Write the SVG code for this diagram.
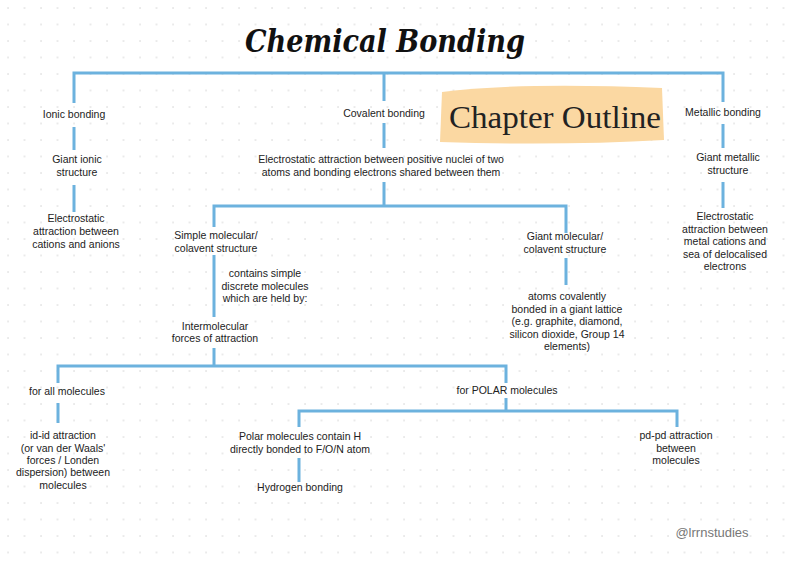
<svg xmlns="http://www.w3.org/2000/svg" width="794" height="561" viewBox="0 0 794 561">
<defs>
<pattern id="dots" width="16.5" height="16.5" patternUnits="userSpaceOnUse" x="6" y="6"><circle cx="2" cy="2" r="0.8" fill="#d4d4d4"/></pattern>
</defs>
<style>
.l{stroke:#6cb2de;stroke-width:3;fill:none}
text{font-family:"Liberation Sans",Arial,sans-serif;font-size:10.5px;fill:#222;text-anchor:middle}
</style>
<rect width="794" height="561" fill="#fff"/>
<rect width="794" height="561" fill="url(#dots)"/>
<g id="title"><text x="385" y="52" textLength="280" lengthAdjust="spacingAndGlyphs" style="font-size:32px;font-weight:bold;font-style:italic;font-family:'DejaVu Serif',serif;fill:#111">Chemical Bonding</text></g>
<g id="chapter-outline">
<path d="M442 92 Q520 82 662 88 L664 140 Q560 146 440 142 Z" fill="#fbd8a2"/>
<text x="555" y="128" textLength="212" lengthAdjust="spacingAndGlyphs" style="font-family:'Liberation Serif',serif;font-size:32px;fill:#222">Chapter Outline</text>
</g>
<g id="connectors">
<path class="l" d="M74 103V73H723V102M384 73V101"/>
<path class="l" d="M74 127V150M74 185V212"/>
<path class="l" d="M384 123V148M384 182V206M214 227V206H566V233"/>
<path class="l" d="M723 124V148M723 182V208"/>
<path class="l" d="M214 255V317M566 258V285"/>
<path class="l" d="M214 348V366M58 383V366H506V383M58 403V423"/>
<path class="l" d="M506 398V411M299 427V411H677V427M299 458V482"/>
</g>
<g id="n-ionic"><text x="74" y="118">Ionic bonding</text></g>
<g id="n-giant-ionic"><text x="77" y="163">Giant ionic</text><text x="77" y="176">structure</text></g>
<g id="n-ionic-es"><text x="76" y="222">Electrostatic</text><text x="76" y="235">attraction between</text><text x="76" y="248">cations and anions</text></g>
<g id="n-covalent"><text x="384" y="117">Covalent bonding</text></g>
<g id="n-cov-es"><text x="381" y="163">Electrostatic attraction between positive nuclei of two</text><text x="381" y="176">atoms and bonding electrons shared between them</text></g>
<g id="n-metallic"><text x="723" y="116">Metallic bonding</text></g>
<g id="n-giant-metallic"><text x="728" y="161">Giant metallic</text><text x="728" y="174">structure</text></g>
<g id="n-met-es"><text x="725" y="220">Electrostatic</text><text x="725" y="233">attraction between</text><text x="725" y="245">metal cations and</text><text x="725" y="258">sea of delocalised</text><text x="725" y="270">electrons</text></g>
<g id="n-simple"><text x="216" y="239">Simple molecular/</text><text x="216" y="252">colavent structure</text></g>
<g id="n-contains"><text x="265" y="277">contains simple</text><text x="265" y="290">discrete molecules</text><text x="265" y="302">which are held by:</text></g>
<g id="n-giant-mol"><text x="565" y="240">Giant molecular/</text><text x="565" y="253">colavent structure</text></g>
<g id="n-atoms"><text x="567" y="300">atoms covalently</text><text x="567" y="313">bonded in a giant lattice</text><text x="567" y="325">(e.g. graphite, diamond,</text><text x="567" y="338">silicon dioxide, Group 14</text><text x="567" y="350">elements)</text></g>
<g id="n-imf"><text x="215" y="330">Intermolecular</text><text x="215" y="342">forces of attraction</text></g>
<g id="n-all"><text x="67" y="395">for all molecules</text></g>
<g id="n-idid"><text x="63" y="439">id-id attraction</text><text x="63" y="452">(or van der Waals'</text><text x="63" y="464">forces / Londen</text><text x="63" y="476">dispersion) between</text><text x="63" y="489">molecules</text></g>
<g id="n-polar"><text x="507" y="394">for POLAR molecules</text></g>
<g id="n-polar-h"><text x="300" y="440">Polar molecules contain H</text><text x="300" y="453">directly bonded to F/O/N atom</text></g>
<g id="n-hbond"><text x="300" y="491">Hydrogen bonding</text></g>
<g id="n-pdpd"><text x="676" y="439">pd-pd attraction</text><text x="676" y="452">between</text><text x="676" y="464">molecules</text></g>
<text x="712" y="537" style="font-size:13px;fill:#777">@lrrnstudies</text>
</svg>
